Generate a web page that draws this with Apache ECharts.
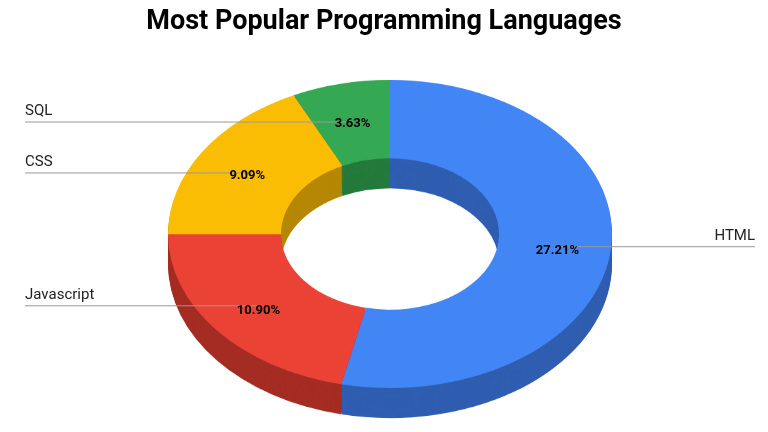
<!DOCTYPE html>
<html><head><meta charset="utf-8">
<script src="https://cdn.jsdelivr.net/npm/echarts@6/dist/echarts.min.js"></script>
<style>
html,body{margin:0;padding:0;width:768px;height:432px;overflow:hidden;background:#fff;}
#a{position:absolute;left:0;top:0;width:768px;height:600px;transform:scaleY(0.694);transform-origin:0 234px;}
#b{position:absolute;left:0;top:0;width:768px;height:432px;}
</style></head><body>
<div id="a"></div><div id="b"></div>
<script>
const categories = ['HTML','Javascript','CSS','SQL'];
const values = [27.21, 10.90, 9.09, 3.63];
const topColors = ['#4285f4','#ea4335','#fbbc04','#34a853'];
const sideColors = ['#2f5db0','#a52c22','#b58703','#237a3b'];

const K = 0.694, CX = 390, CY = 234, R = 222, RIN = 109, DEPTH = 30 / K;
const data = categories.map((c,i)=>({name:c, value:values[i]}));

const a = echarts.init(document.getElementById('a'), null, {renderer:'canvas'});
const series = [];
const N = 14;
for (let j = N; j >= 1; j--) {
  series.push({type:'pie', silent:true, startAngle:90, clockwise:true,
    center:[CX, CY + DEPTH*j/N], radius:[RIN, R], label:{show:false}, labelLine:{show:false},
    itemStyle:{color:(p)=>sideColors[p.dataIndex]}, data});
}
series.push({type:'pie', silent:true, startAngle:90, clockwise:true, center:[CX,CY], radius:[RIN,R],
  label:{show:false}, labelLine:{show:false}, itemStyle:{color:(p)=>topColors[p.dataIndex]}, data});
a.setOption({animation:false, series});

const b = echarts.init(document.getElementById('b'), null, {renderer:'canvas'});
const comp = y => CY + (y - CY) * K;
const MID = (RIN + R) / 2 / R;
b.setOption({
  animation:false,
  title:{text:'Most Popular Programming Languages', left:'center', top:4,
    textStyle:{fontFamily:'Roboto', fontWeight:'bold', fontSize:27, color:'#000'}},
  series:[
    {type:'pie', silent:true, startAngle:90, center:[CX,CY], radius:[RIN,R],
      itemStyle:{color:'transparent'}, data,
      label:{show:true, position:'inside', formatter:(p)=>p.value.toFixed(2)+'%',
        fontFamily:'Roboto', fontWeight:'bold', fontSize:13, color:'#000'},
      labelLine:{show:false},
      labelLayout:(p)=>{const r=p.labelRect; const x=r.x+r.width/2, y=r.y+r.height/2;
        return {x:x, y:comp(y)+4, align:'center', verticalAlign:'middle'};}
    },
    {type:'pie', silent:true, startAngle:90, center:[CX,CY], radius:[RIN,R],
      itemStyle:{color:'transparent'}, data,
      label:{show:true, position:'outside', formatter:'{b}', fontFamily:'Roboto', fontSize:15, color:'#222'},
      labelLine:{show:true, length:10, length2:10, lineStyle:{color:'#999', width:1}},
      labelLayout:(p)=>{
        const p0 = p.labelLinePoints[0];
        const dx = (p0[0]-CX)*MID, dy = (p0[1]-CY)*MID;
        const dot = [CX+dx, comp(CY+dy)];
        const right = p0[0] > CX;
        const ex = right ? 755 : 25;
        return {x:ex, y:dot[1]-3, align: right?'right':'left', verticalAlign:'bottom',
          labelLinePoints:[dot, dot, [ex, dot[1]]]};
      }
    }
  ]
});
</script></body></html>
